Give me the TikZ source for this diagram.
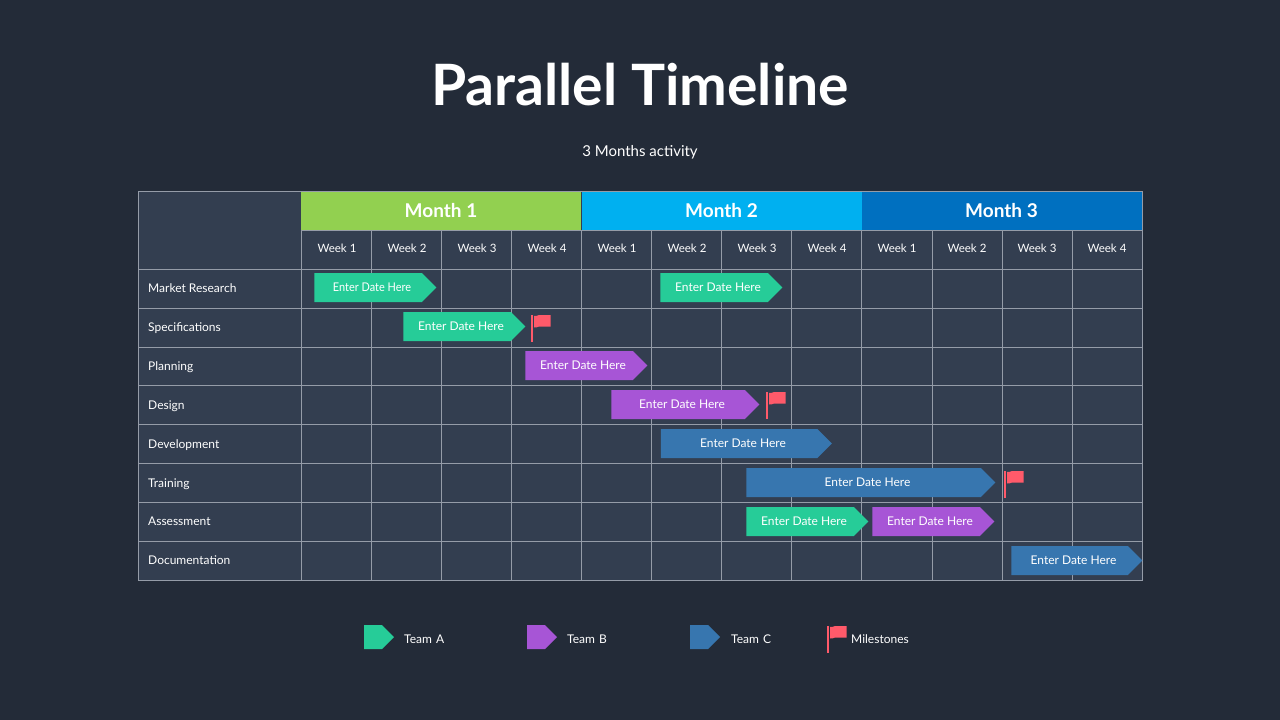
\documentclass[tikz,border=0pt]{standalone}
\usepackage{fontspec}
\setmainfont{Lato}
\usetikzlibrary{positioning,calc,shapes.symbols}
\definecolor{bgdark}{HTML}{232B38}
\definecolor{cellfill}{HTML}{333E50}
\definecolor{gridline}{HTML}{959CA8}
\definecolor{monthA}{HTML}{92D050}
\definecolor{monthB}{HTML}{00B0F0}
\definecolor{monthC}{HTML}{0070C0}
\definecolor{teamA}{HTML}{26CC98}
\definecolor{teamB}{HTML}{A755D6}
\definecolor{teamC}{HTML}{3776AF}
\definecolor{flagred}{HTML}{FF5A6A}
\tikzset{
	x=1pt, y=-1pt,
	every node/.style={text=white, inner sep=0pt},
	gridrule/.style={gridline, line width=1pt},
	monthcell/.style={minimum width=280pt, minimum height=39pt, font=\fontsize{19}{19}\selectfont\bfseries},
	weeklabel/.style={font=\fontsize{11.5}{12}\selectfont},
	rowlabel/.style={anchor=base west, font=\fontsize{12}{12}\selectfont},
	taskbar/.style={shape=signal, signal to=east, signal from=nowhere, signal pointer angle=90,
		minimum height=29pt, font=\fontsize{12}{12}\selectfont, execute at begin node={\hspace{8pt}}},
	legendbar/.style={shape=signal, signal to=east, signal from=nowhere, signal pointer angle=90,
		minimum width=30pt, minimum height=24pt},
	legendlabel/.style={anchor=base west, font=\fontsize{12}{12}\selectfont},
	flagmark/.pic={
		\fill[flagred] (0,0) rectangle (2,27);
		\fill[flagred] (3,1) .. controls (5,1.5) and (6,0.5) .. (8,0) -- (19.5,0) -- (19.5,11.5) -- (8,11.5)
			.. controls (6,12) and (5,13) .. (3,12.5) -- cycle;
	}
}

\begin{document}
\begin{tikzpicture}
	\fill[bgdark] (0,0) rectangle (1280,720);
	\useasboundingbox (0,0) rectangle (1280,720);

	\node[font=\fontsize{57}{57}\selectfont\bfseries] (title) at (640,85) {Parallel Timeline};
	\node[font=\fontsize{15}{15}\selectfont] (subtitle) at (640,152.5) {3 Months activity};

	% table
	\fill[cellfill] (138,191) rectangle (1142,580);
	\foreach \yy in {269,308,347,385,424,463,502,541}
		\draw[gridrule] (138,\yy) -- (1142,\yy);
	\foreach \xx in {371,441,511,581,651,721,791,861,932,1002,1072}
		\draw[gridrule] (\xx,230) -- (\xx,580);
	\draw[gridrule] (301,191) -- (301,580);
	\draw[gridrule] (301,230) -- (1142,230);
	\draw[gridrule] (138,191) rectangle (1142,580);

	\node[monthcell, fill=monthA] (month1) at (441,210.5) {Month 1};
	\node[monthcell, fill=monthB] (month2) at (721.5,210.5) {Month 2};
	\node[monthcell, fill=monthC] (month3) at (1001.5,210.5) {Month 3};
	\draw[gridrule] (301,191) -- (1142,191);

	\foreach \xx/\wk in {337/1,407/2,477/3,547/4,617/1,687/2,757/3,827/4,897/1,967/2,1037/3,1107/4}
		\node[weeklabel] (week\xx) at (\xx,248) {Week \wk};

	\foreach \yy/\task in {292/Market Research,331/Specifications,370/Planning,409/Design,448/Development,487/Training,525/Assessment,564/Documentation}
		\node[rowlabel] (task\yy) at (148,\yy) {\task};

	% bars
	\node[taskbar, fill=teamA, minimum width=122pt] (bar1) at (368,287.5) {\scalebox{0.91}[1]{Enter Date Here}};
	\node[taskbar, fill=teamA, minimum width=122pt] (bar2) at (714,287.5) {Enter Date Here};
	\node[taskbar, fill=teamA, minimum width=122pt] (bar3) at (457,326.5) {Enter Date Here};
	\node[taskbar, fill=teamB, minimum width=122pt] (bar4) at (579,365.5) {Enter Date Here};
	\node[taskbar, fill=teamB, minimum width=148pt] (bar5) at (678,404.5) {Enter Date Here};
	\node[taskbar, fill=teamC, minimum width=171pt] (bar6) at (739,443.5) {Enter Date Here};
	\node[taskbar, fill=teamC, minimum width=249pt] (bar7) at (863.5,482.5) {Enter Date Here};
	\node[taskbar, fill=teamA, minimum width=122pt] (bar8) at (800,521.5) {Enter Date Here};
	\node[taskbar, fill=teamB, minimum width=122pt] (bar9) at (926,521.5) {Enter Date Here};
	\node[taskbar, fill=teamC, minimum width=131pt] (bar10) at (1069.5,560.5) {Enter Date Here};

	\pic at (531,315) {flagmark};
	\pic at (766,392) {flagmark};
	\pic at (1004,471) {flagmark};

	% legend
	\node[legendbar, fill=teamA] (legA) at (373,637) {};
	\node[legendbar, fill=teamB] (legB) at (536,637) {};
	\node[legendbar, fill=teamC] (legC) at (699,637) {};
	\pic at (827,626) {flagmark};
	\node[legendlabel] (labA) at (404,643) {Team\hspace{4pt}A};
	\node[legendlabel] (labB) at (567,643) {Team\hspace{4pt}B};
	\node[legendlabel] (labC) at (731,643) {Team\hspace{4pt}C};
	\node[legendlabel] (labM) at (851,643) {Milestones};
\end{tikzpicture}
\end{document}
